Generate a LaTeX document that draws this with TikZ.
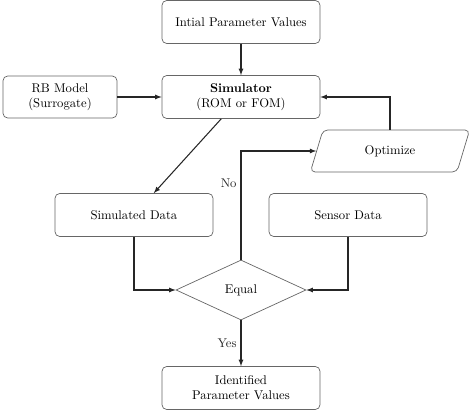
\documentclass[tikz,border=0pt]{standalone}
\usepackage{amsmath}
\usepackage{tikz}
\usetikzlibrary{shapes.geometric}

\tikzset{
  block/.style={draw=black!60, semithick, rounded corners=4pt, fill=white,
    minimum width=4.74cm, minimum height=1.29cm, align=center,
    font=\fontsize{10.8}{13}\selectfont},
  decision/.style={draw=black!60, semithick, diamond, aspect=2.17, inner sep=0pt,
    minimum width=3.9cm, minimum height=1.8cm, font=\fontsize{10.8}{13}\selectfont},
  io/.style={draw=black!60, semithick, trapezium, trapezium left angle=74,
    trapezium right angle=106, trapezium stretches=true, rounded corners=4pt,
    minimum width=4.8cm, minimum height=1.26cm, font=\fontsize{10.8}{13}\selectfont},
  flow/.style={->, >=latex, line width=0.9pt, black!85}
}

\begin{document}
\begin{tikzpicture}[font=\fontsize{10.8}{13}\selectfont]
\useasboundingbox (0,0) rectangle (14.22,12.36);
\begin{scope}[shift={(0,0)}]
\node[block] (init) at (7.23,11.70) {Intial Parameter Values};
\node[block] (sim) at (7.23,9.45) {\textbf{Simulator}\\(ROM or FOM)};
\node[block, minimum width=3.42cm, minimum height=1.26cm] (rb) at (1.80,9.45) {RB Model\\(Surrogate)};
\node[io] (opt) at (11.70,7.83) {Optimize};
\node[block] (simdata) at (4.02,5.91) {Simulated Data};
\node[block] (sensor) at (10.44,5.91) {Sensor Data};
\node[decision] (equal) at (7.23,3.66) {Equal};
\node[block] (ident) at (7.23,0.72) {Identified\\Parameter Values};
% connectors
\draw[flow] (init) -- (sim);
\draw[flow] (rb) -- (sim);
\draw[flow] (sim) -- (simdata);
\draw[flow] (opt) |- (sim);
\draw[flow] (equal) |- node[left, pos=0.35] {No} (opt);
\draw[flow] (simdata) |- (equal);
\draw[flow] (sensor) |- (equal);
\draw[flow] (equal) -- node[left] {Yes} (ident);
\end{scope}

\end{tikzpicture}
\end{document}
